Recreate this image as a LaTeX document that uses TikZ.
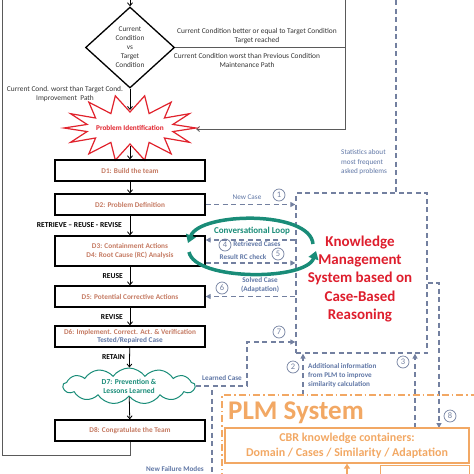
\documentclass[tikz,border=0pt]{standalone}
\usepackage{fontspec}
\setmainfont{Carlito}
\usetikzlibrary{shapes.geometric,shapes.symbols,arrows.meta,calc}
\definecolor{boxtxt}{RGB}{196,121,97}
\definecolor{bluegray}{RGB}{95,118,165}
\definecolor{dashc}{RGB}{115,128,160}
\definecolor{teal1}{RGB}{25,140,120}
\definecolor{kmsred}{RGB}{222,30,45}
\definecolor{plmorange}{RGB}{242,168,100}
\definecolor{linegray}{RGB}{90,90,90}
\definecolor{starred}{RGB}{225,35,45}
\begin{document}
\begin{tikzpicture}[x=1pt,y=-1pt,
  flow/.style={draw=black, line width=0.8pt, -{Straight Barb[length=3pt,width=5pt]}},
  dbox/.style={draw=black, line width=1.3pt, minimum width=150pt, minimum height=21pt, inner sep=1pt, font=\fontsize{7.3}{8.8}\selectfont\bfseries, text=boxtxt, align=center},
  lbl/.style={font=\fontsize{7.4}{9}\selectfont, text=black!80, align=center, inner sep=0pt},
  stage/.style={font=\fontsize{7.6}{8}\selectfont\bfseries, inner sep=0pt, anchor=east},
  dline/.style={draw=dashc, line width=1.3pt, dash pattern=on 5pt off 3.5pt},
  darrow/.style={dline, -{Triangle[length=5pt,width=5pt]}},
  numc/.style={circle, draw=dashc, line width=0.7pt, minimum size=12pt, inner sep=0pt, font=\fontsize{8.5}{8.5}\selectfont, text=dashc},
  blbl/.style={font=\fontsize{7.2}{9}\selectfont\bfseries, text=bluegray, inner sep=0pt, align=center},
  blreg/.style={font=\fontsize{7.2}{9.5}\selectfont, text=bluegray, inner sep=0pt, align=center},
  loop/.style={draw=teal1, line width=3.5pt, -{Triangle[length=8pt,width=10pt]}},
]
\useasboundingbox (0,0) rectangle (474,474);

% left feedback line
\node[dbox] (d8) at (130,430.5) {D8: Congratulate the Team};
\coordinate (lb) at (130,455);
\coordinate (lt) at (2,0);
\draw[linegray, line width=0.8pt] (d8.south) -- (lb) -| (lt);

% diamond
\coordinate (top) at (130,0);
\node[diamond, draw=black, line width=1.3pt, minimum width=89pt, minimum height=81pt, inner sep=0pt, font=\fontsize{7.3}{9}\selectfont, align=center, text=black!80] (dia) at (130,47.5) {Current\\Condition\\vs\\Target\\Condition};
\draw[flow] (top) -- (dia.north);

% right feedback
\coordinate (fbTop) at (345,0);
\coordinate (fbCorner) at (345,129);
\coordinate (sRight) at (196,129);
\coordinate (sTop) at (130,110);
\coordinate (sBot) at (130,146);
\draw[linegray, line width=0.8pt] (dia.east) -- (dia.east -| fbTop);
\draw[flow, draw=linegray] (fbTop) -- (fbCorner) -- (sRight);

\node[lbl] at (257,36.5) {Current Condition better or equal to Target Condition\\Target reached};
\node[lbl] at (247,60.5) {Current Condition worst than Previous Condition\\Maintenance Path};
\node[lbl] at (65,94.5) {Current Cond. worst than Target Cond.\\Improvement\ \ Path};

% star
\draw[starred, line width=1.2pt, fill=white] plot[samples=29, domain=0:28, variable=\i]
  ({130+(55+11*cos(\i*180))*cos(\i*360/28)}, {128+(24.5+8.5*cos(\i*180))*sin(\i*360/28)}) -- cycle;
\node[font=\fontsize{7.3}{8}\selectfont\bfseries, text=starred] (pi) at (130,128) {Problem Identification};
\draw[flow] (dia.south) -- (sTop);

% boxes
\node[dbox] (d1) at (130,170.5) {D1: Build the team};
\node[dbox] (d2) at (130,204.5) {D2: Problem Definition};
\node[dbox, minimum height=30pt] (d3) at (130,251) {D3: Containment Actions\\D4: Root Cause (RC) Analysis};
\node[dbox] (d5) at (130,296.5) {D5: Potential Corrective Actions};
\node[dbox, inner sep=0pt] (d6) at (130,336.5) {D6: Implement. Correct. Act. \& Verification\\\textcolor{bluegray}{Tested/Repaired Case}};
\node[cloud, cloud puffs=13, cloud puff arc=110, aspect=3.7, draw=teal1, line width=1pt, minimum width=132pt, minimum height=36pt, inner sep=0pt, font=\fontsize{7.6}{9}\selectfont\bfseries, text=teal1, align=center] (d7) at (129,386) {D7: Prevention \&\\Lessons Learned};

\draw[flow] (sBot) -- (d1.north);
\draw[flow] (d1) -- (d2);
\draw[flow] (d2) -- (d3);
\draw[flow] (d3) -- (d5);
\draw[flow] (d5) -- (d6);
\draw[flow] (d6) -- (d7);
\draw[flow] (d7) -- (d8);

\node[stage] at (122,225) {RETRIEVE – REUSE - REVISE};
\node[stage] at (123,276) {REUSE};
\node[stage] at (123,317) {REVISE};
\node[stage] at (125,357) {RETAIN};

% KMS
\node[dline, minimum width=131pt, minimum height=160pt, inner sep=0pt] (kms) at (361.5,273) {};
\node[font=\fontsize{15}{18.3}\selectfont\bfseries, text=kmsred, align=center] (kmst) at (360,279) {Knowledge\\Management\\System based on\\Case-Based\\Reasoning};

% conversational loop
\draw[loop] (313,244) .. controls (310,210) and (200,212) .. (188,243);
\draw[loop] (189,252) .. controls (195,281) and (306,281) .. (316,251);
\node[font=\fontsize{9}{9}\selectfont\bfseries, text=teal1] at (252,231) {Conversational Loop};

% dashed arrows
\coordinate (r4) at ($(d3.east)+(0,-11)$);
\coordinate (r5) at ($(d3.east)+(0,12)$);
\coordinate (lcx) at (247,342);
\coordinate (st) at (396,0);
\coordinate (a2) at (303,395);
\coordinate (a3) at (415,0);
\coordinate (a8) at (439,283);
\coordinate (nf) at (212,390);
\coordinate (nfe) at (212,480);

\draw[darrow] (d2.east) -- (d2.east -| kms.west);
\draw[darrow] (kms.west |- r4) -- (r4);
\draw[darrow] (r5) -- (kms.west |- r5);
\draw[darrow] (kms.west |- d5.east) -- (d5.east);
\draw[darrow] (d7.east) -| (lcx) -- (kms.west |- lcx);
\draw[dline] (st) -- (st |- kms.north);
\draw[darrow] (a2) -- (a2 |- kms.south);
\draw[darrow] (a3 |- 0,428) -- (a3 |- kms.south);
\draw[darrow] (kms.east |- a8) -- (a8) -- (a8 |- 0,428);
\draw[dline] (nf) -- (nfe);

% numbered circles
\node[numc] (n1) at (279,195) {1};
\node[numc] (n2) at (293,367) {2};
\node[numc] (n3) at (403,362) {3};
\node[numc] (n4) at (225,245) {4};
\node[numc] (n5) at (278,254) {5};
\node[numc] (n6) at (222,288) {6};
\node[numc] (n7) at (279,332) {7};
\node[numc] (n8) at (450,416) {8};

% labels
\node[blreg] at (247,197) {New Case};
\node[blreg, align=left, anchor=west] at (341,162.5) {Statistics about\\most frequent\\asked problems};
\node[blbl] at (257,244) {Retrieved Cases};
\node[blbl] at (243,257) {Result RC check};
\node[blbl] at (260,285.5) {Solved Case\\(Adaptation)};
\node[blbl] at (222,378) {Learned Case};
\node[blbl, align=left, anchor=west] at (308,376) {Additional information\\from PLM to improve\\similarity calculation};
\node[blbl] at (175,469) {New Failure Modes};

% PLM
\draw[plmorange, line width=1.3pt, dash pattern=on 7pt off 3pt on 1.5pt off 3pt] (222,480) -- (222,395) -- (480,395);
\node[anchor=base west, font=\fontsize{27}{27}\selectfont\bfseries, text=plmorange, inner sep=0pt] (plm) at (228,419) {PLM System};
\node[draw=plmorange, line width=1.3pt, minimum width=244pt, minimum height=35pt, inner sep=0pt, font=\fontsize{12}{15}\selectfont\bfseries, text=plmorange, align=center] (cbr) at (347,445.5) {CBR knowledge containers:\\Domain / Cases / Similarity / Adaptation};
\node[draw=plmorange, line width=1.3pt, minimum width=89pt, minimum height=30pt, anchor=north west] (bbox) at (380,465) {};
\coordinate (cbrin) at (347,485);
\draw[plmorange, line width=1.3pt, -{Triangle[length=5pt,width=6pt]}] (cbrin) -- (cbr.south);
\end{tikzpicture}
\end{document}
